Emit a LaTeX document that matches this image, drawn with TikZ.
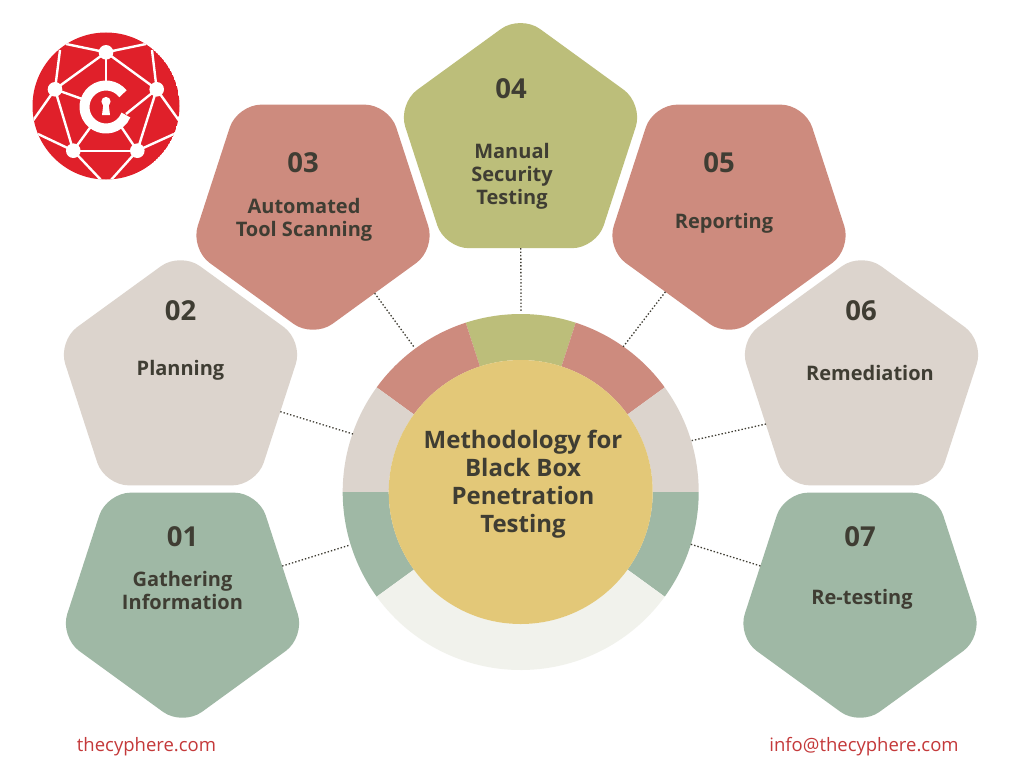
\documentclass[tikz,border=0pt]{standalone}
\usepackage{fontspec}
\setmainfont{Open Sans}
\usetikzlibrary{shapes.geometric}
\definecolor{cgreen}{HTML}{9FB8A5}
\definecolor{cbeige}{HTML}{DCD4CD}
\definecolor{cred}{HTML}{CD8B7E}
\definecolor{colive}{HTML}{BCBE7A}
\definecolor{cyellow}{HTML}{E3C878}
\definecolor{cpale}{HTML}{F1F2EC}
\definecolor{ctext}{HTML}{3F3D33}
\definecolor{cfoot}{HTML}{C4393A}
\definecolor{clogo}{HTML}{E0202A}
\tikzset{
  penta/.style={shape=regular polygon,regular polygon sides=5,minimum size=258pt,inner sep=0pt,outer sep=0pt,rounded corners=24pt,fill=#1},
  pentadown/.style={penta=#1,shape border rotate=180},
  numtext/.style={text=ctext,font=\fontsize{27.5}{27}\selectfont\bfseries},
  labeltext/.style={text=ctext,align=center,font=\fontsize{20}{23}\selectfont\bfseries},
  titletext/.style={text=ctext,align=center,font=\fontsize{24}{28}\selectfont\bfseries},
  foottext/.style={text=cfoot,font=\fontsize{18.5}{20}\selectfont},
  conn/.style={draw=ctext,line width=1.3pt,dash pattern=on 1.4pt off 2pt},
  logoline/.style={draw=white,line width=2.4pt},
}
\newcommand{\ringsector}[3]{\fill[#3] (#1:178) arc[start angle=#1,end angle=#2,radius=178] -- (#2:132) arc[start angle=#2,end angle=#1,radius=132] -- cycle;}
\begin{document}
\begin{tikzpicture}[x=1pt,y=-1pt]
\useasboundingbox (0,0) rectangle (1024,768);
\fill[white] (0,0) rectangle (1024,768);
% ring
\begin{scope}[shift={(520.7,492)},yscale=-1]
\ringsector{72}{108}{colive}
\ringsector{36}{72}{cred}
\ringsector{108}{144}{cred}
\ringsector{0}{36}{cbeige}
\ringsector{144}{180}{cbeige}
\ringsector{-36}{0}{cgreen}
\ringsector{180}{216}{cgreen}
\ringsector{216}{324}{cpale}
\end{scope}
\node[circle,fill=cyellow,minimum size=264pt,inner sep=0pt] (hub) at (520.7,492) {};
\node[titletext] (title) at (523,484.5) {Methodology for\\Black Box\\Penetration\\Testing};
% pentagons
\node[pentadown=cgreen] (p1) at (182.5,597) {};
\node[penta=cbeige] (p2) at (180.5,381) {};
\node[pentadown=cred] (p3) at (313,209) {};
\node[penta=colive] (p4) at (520.5,143.8) {};
\node[pentadown=cred] (p5) at (729,209) {};
\node[penta=cbeige] (p6) at (861.5,381) {};
\node[pentadown=cgreen] (p7) at (860,597) {};
% connectors
\coordinate (r1) at (350,545);
\coordinate (r2) at (353,434);
\coordinate (r3) at (414,347);
\coordinate (r4) at (521,311);
\coordinate (r5) at (623,347);
\coordinate (r6) at (690,441);
\coordinate (r7) at (690,544);
\coordinate (s6) at (766,424);
\draw[conn] (p1) -- (r1);
\draw[conn] (p2) -- (r2);
\draw[conn] (p3) -- (r3);
\draw[conn] (p4) -- (r4);
\draw[conn] (p5) -- (r5);
\draw[conn] (s6) -- (r6);
\draw[conn] (p7) -- (r7);
% texts
\node[numtext] (n1) at (182.5,536.5) {01};
\node[labeltext] (l1) at (182.5,590) {Gathering\\Information};
\node[numtext] (n2) at (180.5,310.5) {02};
\node[labeltext] (l2) at (180.5,370) {Planning};
\node[numtext] (n3) at (303,163) {03};
\node[labeltext] (l3) at (304,220) {Automated\\Tool Scanning};
\node[numtext] (n4) at (511,89) {04};
\node[labeltext] (l4) at (512,176) {Manual\\Security\\Testing};
\node[numtext] (n5) at (719,163) {05};
\node[labeltext] (l5) at (724,223) {Reporting};
\node[numtext] (n6) at (861,310.5) {06};
\node[labeltext] (l6) at (870,372.5) {Remediation};
\node[numtext] (n7) at (860,536.5) {07};
\node[labeltext] (l7) at (862,599) {Re-testing};
\node[foottext] (f1) at (146.5,747) {thecyphere.com};
\node[foottext] (f2) at (864,747) {info@thecyphere.com};
% logo
\begin{scope}
\clip (106,106) circle (73.5);
\fill[clogo] (106,106) circle (73.5);
\coordinate (la) at (106,52.3);
\coordinate (lb) at (55,89.3);
\coordinate (lc) at (156.7,89.3);
\coordinate (ld) at (73.3,150.7);
\coordinate (le) at (137.3,150.7);
\draw[logoline] (la) -- (66,44);
\draw[logoline] (la) -- (146,44);
\draw[logoline] (lb) -- (60,50);
\draw[logoline] (lb) -- (32,122);
\draw[logoline] (lc) -- (152,50);
\draw[logoline] (lc) -- (180,122);
\draw[logoline] (ld) -- (38,134);
\draw[logoline] (ld) -- (101,180);
\draw[logoline] (le) -- (174,134);
\draw[logoline] (le) -- (111,180);
\draw[logoline] (la) -- (lb);
\draw[logoline] (la) -- (lc);
\draw[logoline] (lb) -- (ld);
\draw[logoline] (lc) -- (le);
\draw[logoline] (ld) -- (le);
\draw[logoline] (la) -- (106,90);
\draw[logoline] (lb) -- (85,100);
\draw[logoline] (ld) -- (92,125);
\draw[logoline] (le) -- (120,125);
\foreach \p in {la,lb,lc,ld,le} \fill[white] (\p) circle (7.3);
\begin{scope}[shift={(106,107)},yscale=-1]
\fill[clogo] (0,0) circle (25);
\draw[white,line width=10pt] (38:21.5) arc[start angle=38,end angle=338,radius=21.5];
\end{scope}
\draw[logoline] (lc) -- (126,114);
\fill[white] (106,101.5) circle (4.6);
\fill[white] (103.5,103) -- (108.5,103) -- (110,115) -- (102,115) -- cycle;
\end{scope}
\end{tikzpicture}
\end{document}
